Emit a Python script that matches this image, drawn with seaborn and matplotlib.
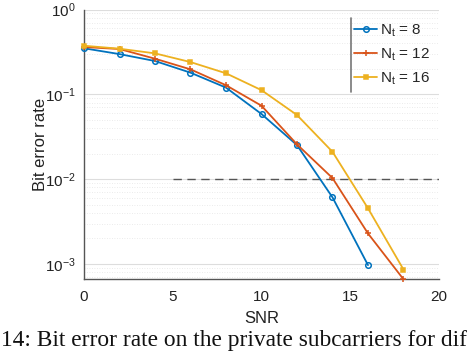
import numpy as np
import pandas as pd
import matplotlib
matplotlib.use("Agg")
import matplotlib.pyplot as plt
import seaborn as sns
from matplotlib.lines import Line2D

snr = [0, 2, 4, 6, 8, 10, 12, 14, 16, 18]
ber_nt8 = [0.349, 0.298, 0.247, 0.180, 0.120, 0.0586, 0.0252, 0.0061, 0.00097, np.nan]
ber_nt12 = [0.361, 0.342, 0.263, 0.197, 0.128, 0.0734, 0.0257, 0.0103, 0.00229, 0.00066]
ber_nt16 = [0.374, 0.345, 0.304, 0.240, 0.177, 0.112, 0.057, 0.021, 0.00453, 0.00086]
labels = ["N$_\\mathregular{t}$ = 8", "N$_\\mathregular{t}$ = 12", "N$_\\mathregular{t}$ = 16"]
threshold = 1e-2
threshold_x = [5, 20]
caption = "14: Bit error rate on the private subcarriers for dif"

sns.set_style("white")
plt.rcParams["font.family"] = ["Liberation Sans", "DejaVu Sans"]
plt.rcParams["mathtext.fontset"] = "custom"
plt.rcParams["mathtext.rm"] = "Liberation Sans"
plt.rcParams["mathtext.it"] = "Liberation Sans:italic"

df = pd.DataFrame({"SNR": snr * 3,
                   "BER": ber_nt8 + ber_nt12 + ber_nt16,
                   "series": [labels[0]] * 10 + [labels[1]] * 10 + [labels[2]] * 10})

colors = ["#0072BD", "#D95319", "#EDB120"]
markers = ["o", "+", "s"]
msizes = [4, 5, 3.5]
fills = ["none", "full", "full"]

fig = plt.figure(figsize=(4.74, 3.51), dpi=100)
ax = fig.add_axes([84 / 474, 1 - 279.3 / 351, (439 - 84) / 474, (279.3 - 9.5) / 351])

for lab, c, m, ms, fs in zip(labels, colors, markers, msizes, fills):
    sub = df[df["series"] == lab].dropna()
    sns.lineplot(data=sub, x="SNR", y="BER", ax=ax, color=c, marker=m,
                 markersize=ms, fillstyle=fs, markeredgewidth=1.1,
                 markeredgecolor=c, linewidth=1.3, label=lab, clip_on=False,
                 zorder=3)

ax.plot(threshold_x, [threshold, threshold], color="#555555", linestyle=(0, (6, 4)),
        linewidth=1.0, zorder=2)

ax.set_yscale("log")
ax.set_xlim(0, 20)
ax.set_ylim(6.6e-4, 1)
ax.set_xticks([0, 5, 10, 15, 20])
ax.set_yticks([1e-3, 1e-2, 1e-1, 1e0])
ax.yaxis.set_minor_locator(matplotlib.ticker.LogLocator(base=10, subs=np.arange(2, 10)))
ax.yaxis.set_minor_formatter(matplotlib.ticker.NullFormatter())
ax.grid(True, which="major", axis="y", color="#dddddd", linewidth=0.8, linestyle="-")
ax.grid(True, which="minor", axis="y", color="#e4e4e4", linewidth=0.6, linestyle=(0, (1, 2)))
ax.set_axisbelow(True)

for s in ["top", "right"]:
    ax.spines[s].set_visible(False)
for s in ["left", "bottom"]:
    ax.spines[s].set_color("#555555")
    ax.spines[s].set_linewidth(1.0)
ax.tick_params(axis="both", which="both", direction="in", length=0, labelsize=11,
               colors="#222222", pad=6)
ax.tick_params(axis="x", pad=8)
ax.set_xlabel("SNR", fontsize=12, color="#222222", labelpad=5)
ax.set_ylabel("Bit error rate", fontsize=12, color="#222222", labelpad=-2)

leg = ax.legend(loc="upper right", bbox_to_anchor=(1.0, 0.985), frameon=False,
                fontsize=11, handlelength=1.45, handletextpad=0.2, labelspacing=0.5,
                borderaxespad=0.2)
fig.canvas.draw()
bb = leg.get_window_extent().transformed(fig.transFigure.inverted())
fig.add_artist(Line2D([bb.x0 + 0.006, bb.x0 + 0.006], [bb.y0 + 0.005, bb.y1 - 0.005],
                      transform=fig.transFigure, color="#777777", linewidth=1.2))

fig.text(1 / 474, 5 / 351, caption, family=["Liberation Serif", "DejaVu Serif"],
         fontsize=16.8, ha="left", va="baseline", color="#111111")

fig.savefig("out.png", dpi=100)
